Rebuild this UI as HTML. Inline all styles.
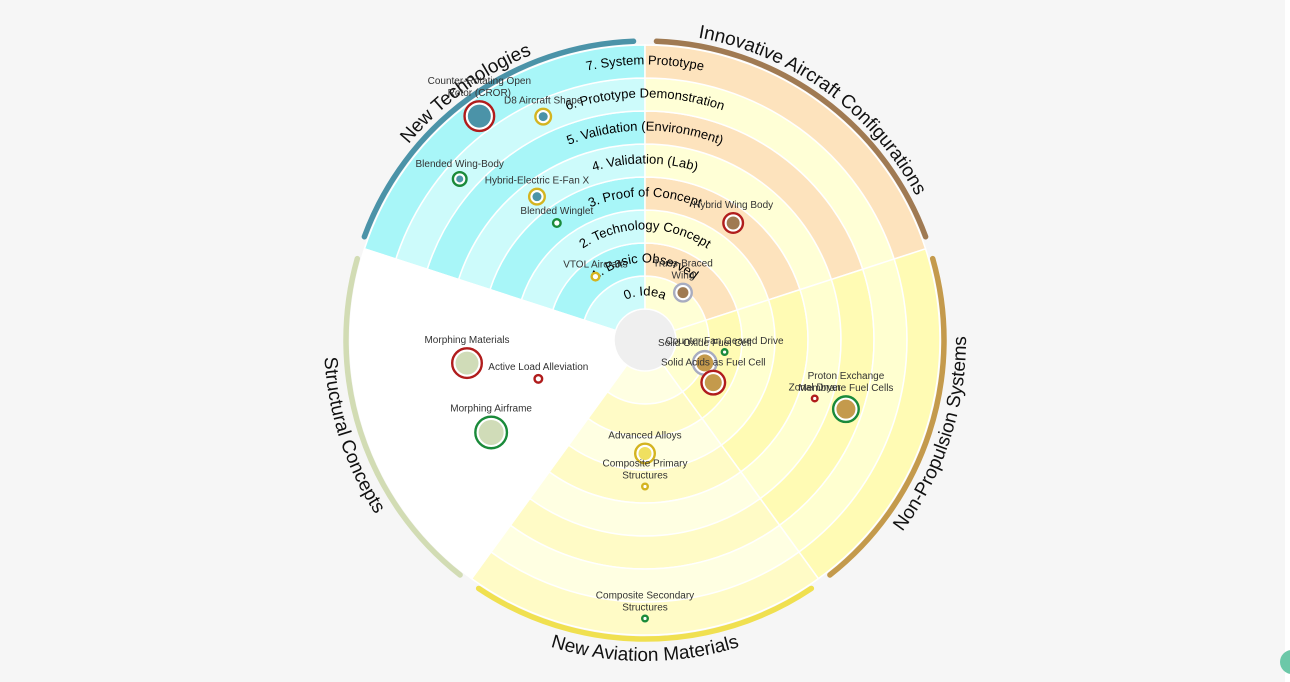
<!DOCTYPE html>
<html><head><meta charset="utf-8">
<style>
html,body{margin:0;padding:0;background:#f6f6f6;}
svg{display:block;font-family:"Liberation Sans",sans-serif;}
</style></head>
<body>
<svg id="chart" width="1290" height="682" viewBox="0 0 1290 682">
<rect x="0" y="0" width="1290" height="682" fill="#f6f6f6"/>
<rect x="1285" y="0" width="5" height="682" fill="#ffffff"/>
<circle cx="1292" cy="662" r="12" fill="#6cc8a8"/>
<g id="sectors"></g>
<g id="arcs"></g>
<g id="levelLabels"></g>
<g id="dots"></g>
</svg>
<script>
const categories = ["New Technologies","Innovative Aircraft Configurations","Non-Propulsion Systems","New Aviation Materials","Structural Concepts"];
const categoryStart = [288, 0, 72, 144, 216];
const categoryEnd = [360, 72, 144, 216, 288];
const levelNames = ["0. Idea","1. Basic Observed","2. Technology Concept","3. Proof of Concept","4. Validation (Lab)","5. Validation (Environment)","6. Prototype Demonstration","7. System Prototype"];
const techNames = ["Counter-Rotating Open|Rotor (CROR)","D8 Aircraft Shape","Blended Wing-Body","Hybrid-Electric E-Fan X","Blended Winglet","VTOL Aircrafts","Hybrid Wing Body","Truss-Braced|Wing","Solid Oxide Fuel Cell","Counter Fan Geared Drive","Solid Acids as Fuel Cell","Proton Exchange|Membrane Fuel Cells","Zonal Dryer","Morphing Materials","Active Load Alleviation","Morphing Airframe","Advanced Alloys","Composite Primary|Structures","Composite Secondary|Structures"];
const techCategory = [0,0,0,0,0,0,1,1,2,2,2,2,2,4,4,4,3,3,3];
const techAngle = [323.5,335.5,311,323,323,322,37,38.7,111,98.6,122,109,109,262.6,250,239,180,180,180];
const techLevel = [7,6,6,4,3,1,3,0.4,0.5,1,1,5,4,4,2,4,2,3,7];
const techSize = [16,9,8,9,5,5,11,10,13,4,13,14,4,16,5,17,11,4,4];
const techStatus = ["red","gold","green","gold","green","gold","red","grey","grey","green","red","green","red","red","red","green","gold","gold","green"];

const cx=645, cy=340, r0=31, bw=33;
const NS="http://www.w3.org/2000/svg";
const darkBand=["#a8f6f8","#fde3bd","#fffbb4","#fffbc6","#ffffff"];
const lightBand=["#cdfbfb","#ffffd6","#ffffd0","#ffffe2","#ffffff"];
const arcColor=["#4b93a8","#a07a52","#c49a4c","#f0e050","#d2dcb4"];
const dotFill=["#4b93a8","#a07a52","#c49a4c","#f0e060","#d0dcb8"];
const statusColor={red:"#b01c1c",gold:"#d4b420",green:"#1a8a3a",grey:"#a8acc0"};
const reversedLabel=[false,false,true,true,true];

function rad(a){return a*Math.PI/180;}
function px(a,r){return cx+r*Math.sin(rad(a));}
function py(a,r){return cy-r*Math.cos(rad(a));}
function rOf(level){return r0+(level+0.5)*bw;}
function annular(a0,a1,ri,ro){
  const lg=(a1-a0)>180?1:0;
  return `M${px(a0,ro)},${py(a0,ro)} A${ro},${ro} 0 ${lg} 1 ${px(a1,ro)},${py(a1,ro)} L${px(a1,ri)},${py(a1,ri)} A${ri},${ri} 0 ${lg} 0 ${px(a0,ri)},${py(a0,ri)} Z`;
}
function arcPath(a0,a1,r,rev){
  const lg=(a1-a0)>180?1:0;
  if(!rev) return `M${px(a0,r)},${py(a0,r)} A${r},${r} 0 ${lg} 1 ${px(a1,r)},${py(a1,r)}`;
  return `M${px(a1,r)},${py(a1,r)} A${r},${r} 0 ${lg} 0 ${px(a0,r)},${py(a0,r)}`;
}
function mk(tag,parent){const e=document.createElementNS(NS,tag);parent.appendChild(e);return e;}

const gS=document.getElementById("sectors");
const gA=document.getElementById("arcs");
const gL=document.getElementById("levelLabels");
const gD=document.getElementById("dots");

const cc=mk("circle",gS);
cc.setAttribute("cx",cx);cc.setAttribute("cy",cy);cc.setAttribute("r",r0);cc.setAttribute("fill","#efefef");



categories.forEach((c,ci)=>{
  levelNames.forEach((ln,li)=>{
    const p=mk("path",gS);
    p.setAttribute("d",annular(categoryStart[ci],categoryEnd[ci],r0+li*bw,r0+(li+1)*bw));
    p.setAttribute("fill",li%2===1?darkBand[ci]:lightBand[ci]);
    p.setAttribute("stroke","#ffffff");p.setAttribute("stroke-width","1.5");
    
    
  });
  const a=mk("path",gA);
  a.setAttribute("d",arcPath(categoryStart[ci]+2.2,categoryEnd[ci]-2.2,299,false));
  a.setAttribute("fill","none");a.setAttribute("stroke",arcColor[ci]);
  a.setAttribute("stroke-width","5.5");a.setAttribute("stroke-linecap","round");
  
  
  const rev=reversedLabel[ci];
  const tp=mk("path",gA);
  tp.setAttribute("id","cat"+ci);tp.setAttribute("fill","none");
  tp.setAttribute("d",arcPath(categoryStart[ci]-20,categoryEnd[ci]+20,rev?321:307,rev));
  const t=mk("text",gA);
  t.setAttribute("font-size","19");t.setAttribute("fill","#111");
  
  
  const tpp=mk("textPath",t);
  tpp.setAttribute("href","#cat"+ci);tpp.setAttribute("startOffset","50%");tpp.setAttribute("text-anchor","middle");
  tpp.textContent=c;
});

levelNames.forEach((ln,li)=>{
  const p=mk("path",gL);
  p.setAttribute("id","lvl"+li);p.setAttribute("fill","none");
  p.setAttribute("d",arcPath(-60,60,rOf(li)-3,false));
  const t=mk("text",gL);
  t.setAttribute("font-size","13");t.setAttribute("fill","#000");
  
  
  const tpp=mk("textPath",t);
  tpp.setAttribute("href","#lvl"+li);tpp.setAttribute("startOffset","50%");tpp.setAttribute("text-anchor","middle");
  tpp.textContent=ln;
});

techNames.forEach((n,i)=>{
  const r=rOf(techLevel[i]);
  const x=px(techAngle[i],r), y=py(techAngle[i],r);
  const s=techSize[i];
  const g=mk("g",gD);
  
  
  const ring=mk("circle",g);
  ring.setAttribute("cx",x);ring.setAttribute("cy",y);ring.setAttribute("r",s-1.2);
  ring.setAttribute("fill","#ffffff");ring.setAttribute("stroke",statusColor[techStatus[i]]);ring.setAttribute("stroke-width","2.4");
  if(s>5){
    const f=mk("circle",g);
    f.setAttribute("cx",x);f.setAttribute("cy",y);f.setAttribute("r",Math.max(2,s-4.5));
    f.setAttribute("fill",dotFill[techCategory[i]]);
  }
  const lines=n.split("|");
  lines.forEach((l,k)=>{
    const t=mk("text",g);
    t.setAttribute("x",x);t.setAttribute("y",y-s-4-(lines.length-1-k)*12);
    t.setAttribute("text-anchor","middle");t.setAttribute("font-size","10");t.setAttribute("fill","#333");
    
    
    t.textContent=l;
  });
});
</script>
</body></html>
